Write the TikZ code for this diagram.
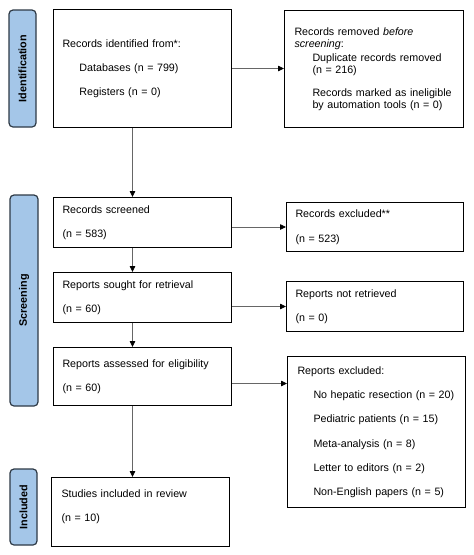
\documentclass[tikz,border=0pt]{standalone}
\usepackage{fontspec}
\setmainfont{Liberation Sans}
\usetikzlibrary{arrows.meta,calc}
\definecolor{barblue}{HTML}{A4C6E8}
\definecolor{bardraw}{HTML}{2E3A46}
\definecolor{arrgray}{HTML}{666666}
\newcommand{\fs}{\fontsize{10.7}{12.5}\selectfont}
\newcommand{\ind}[1]{\hspace*{#1pt}}
\begin{document}
\begin{tikzpicture}[x=1pt,y=-1pt,
  boxnode/.style={draw=black, line width=1pt, fill=white, align=left,
    inner xsep=9pt, inner ysep=0pt, anchor=north west, font=\fs},
  barnode/.style={draw=bardraw, line width=1.2pt, fill=barblue, rounded corners=4pt,
    rotate=90, font=\fontsize{10.8}{12}\selectfont\bfseries, inner sep=0pt},
  arr/.style={draw=arrgray, line width=0.8pt, -{Triangle[length=6pt,width=5.5pt,fill=black,color=black]}}]
\useasboundingbox (0,0) rectangle (474,555);
\fill[white] (0,0) rectangle (474,555);

% phase bars
\node[barnode, minimum width=117pt, minimum height=27pt] (bid) at (22.5,68.5) {Identification};
\node[barnode, minimum width=211pt, minimum height=28pt] (bsc) at (24,300.5) {Screening};
\node[barnode, minimum width=76pt, minimum height=27pt] (bin) at (23.5,507) {Included};

% boxes
\node[boxnode, text width=160pt, minimum height=118pt] (b1) at (53,9)
  {Records identified from*:\\[11.5pt]
   \ind{17}Databases (n = 799)\\[11pt]
   \ind{17}Registers (n = 0)};
\node[boxnode, inner xsep=10pt, text width=159pt, minimum height=117pt] (rem) at (284,10)
  {Records removed \textit{before}\\
   \textit{screening}:\\[1pt]
   \ind{18}Duplicate records removed\\
   \ind{18}(n = 216)\\[10pt]
   \ind{18}Records marked as ineligible\\
   \ind{18}by automation tools (n = 0)};
\node[boxnode, text width=160pt, minimum height=50pt] (scr) at (53,197)
  {Records screened\\[11.5pt](n = 583)};
\node[boxnode, text width=159pt, minimum height=49pt] (exc) at (286,202)
  {Records excluded**\\[13pt](n = 523)};
\node[boxnode, text width=160pt, minimum height=50pt] (sou) at (53,272)
  {Reports sought for retrieval\\[11.5pt](n = 60)};
\node[boxnode, text width=159pt, minimum height=50pt] (nr) at (286,281)
  {Reports not retrieved\\[11.5pt](n = 0)};
\node[boxnode, text width=160pt, minimum height=58pt] (ass) at (53,347)
  {Reports assessed for eligibility\\[12pt](n = 60)};
\node[boxnode, inner xsep=10pt, text width=158pt, minimum height=151pt] (rex) at (287,356)
  {Reports excluded:\\[12pt]
   \ind{16}No hepatic resection (n = 20)\\[11.5pt]
   \ind{16}Pediatric patients (n = 15)\\[12pt]
   \ind{16}Meta-analysis (n = 8)\\[12pt]
   \ind{16}Letter to editors (n = 2)\\[11.5pt]
   \ind{16}Non-English papers (n = 5)};
\node[boxnode, inner xsep=10pt, text width=158pt, minimum height=69pt] (inc) at (51,477)
  {Studies included in review\\[11.5pt](n = 10)\\[-0.5pt]\mbox{}};

% connectors
\coordinate (vx) at (132.5,0);
\draw[arr] (b1.east) -- (b1.east -| rem.west);
\draw[arr] (scr.east |- exc.west) -- (exc.west);
\draw[arr] (sou.east |- nr.west) -- (nr.west);
\coordinate (a3) at ($(ass.east)+(0,7)$);
\draw[arr] (a3) -- (a3 -| rex.west);
\draw[arr] (vx |- b1.south) -- (vx |- scr.north);
\draw[arr] (vx |- scr.south) -- (vx |- sou.north);
\draw[arr] (vx |- sou.south) -- (vx |- ass.north);
\draw[arr] (vx |- ass.south) -- (vx |- inc.north);
\end{tikzpicture}
\end{document}
